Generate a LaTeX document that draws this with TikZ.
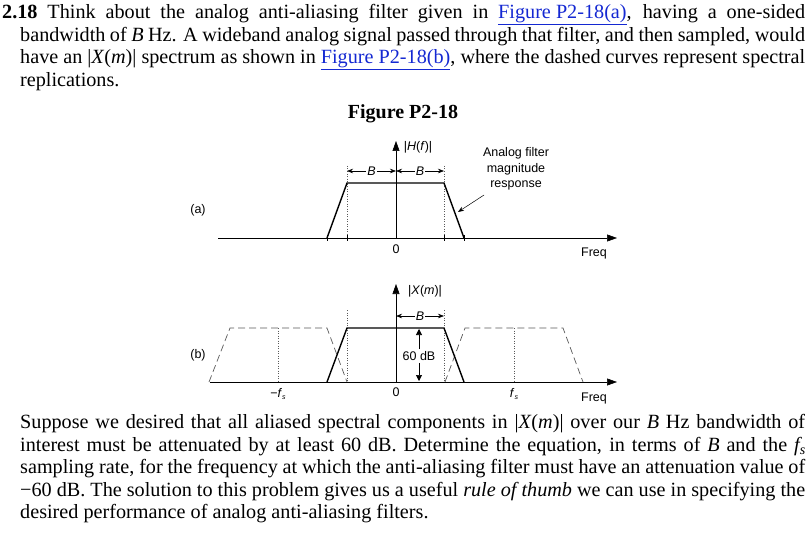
\documentclass[tikz,border=0pt]{standalone}
\usepackage{fontspec}
\setmainfont{Liberation Serif}
\setsansfont{Liberation Sans}
\usetikzlibrary{arrows.meta}
\definecolor{lnk}{RGB}{20,40,210}
\newcommand{\lk}[1]{\textcolor{lnk}{\underline{#1}}}
\begin{document}
\begin{tikzpicture}[x=1pt,y=-1pt,
  ax/.style={line width=0.6pt,-{Triangle[length=10pt,width=7pt]}},
  curve/.style={line width=1.4pt},
  rep/.style={line width=0.7pt,dash pattern=on 7pt off 4pt,gray!70!black},
  dot/.style={line width=0.5pt,dotted,gray!70!black},
  lab/.style={font=\sffamily\fontsize{12.5}{14}\selectfont,inner sep=1pt},
  txt/.style={anchor=north west,inner sep=0pt,font=\fontsize{20.2}{22.6}\selectfont}]
\useasboundingbox (0,0) rectangle (810,540);
\node[txt] (p1) at (2,4) {\parbox{803pt}{\hangindent=18pt\hangafter=1
\textbf{2.18} Think about the analog anti-aliasing filter given in \lk{Figure P2-18(a)}, having a one-sided\linebreak
bandwidth of \textit{B} Hz. A wideband analog signal passed through that filter, and then sampled, would\linebreak
have an |\textit{X}(\textit{m})| spectrum as shown in \lk{Figure P2-18(b)}, where the dashed curves represent spectral\linebreak
replications.}};
\node[font=\fontsize{20}{22}\selectfont\bfseries] (title) at (403,114) {Figure P2-18};
\node[txt] (p2) at (20,414) {\parbox{785pt}{
Suppose we desired that all aliased spectral components in |\textit{X}(\textit{m})| over our \textit{B} Hz bandwidth of\linebreak
interest must be attenuated by at least 60 dB. Determine the equation, in terms of \textit{B} and the \textit{f\raisebox{-3pt}{\fontsize{14}{14}\selectfont s}}\linebreak
sampling rate, for the frequency at which the anti-aliasing filter must have an attenuation value of\linebreak
\textminus60 dB. The solution to this problem gives us a useful \textit{rule of thumb} we can use in specifying the\linebreak
desired performance of analog anti-aliasing filters.}};
% (a)
\coordinate (a0) at (218,238); \coordinate (a1) at (617,238);
\coordinate (v0) at (396,238); \coordinate (v1) at (396,141);
\draw[ax] (a0) -- (a1);
\draw[ax] (v0) -- (v1);
\draw[dot] (347,166) -- (347,238) (444,166) -- (444,238);
\draw[curve] (327,238) -- (347,183) -- (444,183) -- (464,238);
\draw[line width=0.5pt] (327,235)--(327,241) (347,235)--(347,241) (444,235)--(444,241) (464,235)--(464,241);
\node[lab] (ab1) at (371.5,171) {\textit{B}};
\node[lab] (ab2) at (420,171) {\textit{B}};
\draw[line width=0.6pt,-{Stealth[length=6pt]}] (ab1.west) -- (347,171); \draw[line width=0.6pt,-{Stealth[length=6pt]}] (ab1.east) -- (396,171);
\draw[line width=0.6pt,-{Stealth[length=6pt]}] (ab2.west) -- (396,171); \draw[line width=0.6pt,-{Stealth[length=6pt]}] (ab2.east) -- (444,171);
\node[lab] (hf) at (418,147) {|\textit{H}(\textit{f})|};
\node[lab] (a0l) at (396,249) {0};
\node[lab] (fa) at (594,253) {Freq};
\node[lab] (al) at (198,210) {(a)};
\node[lab,align=center,font=\sffamily\fontsize{12.5}{15.5}\selectfont] (ann) at (516,169) {Analog filter\\magnitude\\response};
\coordinate (annt) at (458,212);
\draw[line width=0.5pt,-{Stealth[length=6pt]}] (484,195) -- (annt);
% (b)
\coordinate (b0) at (210,382); \coordinate (b1) at (617,382);
\coordinate (w0) at (396,382); \coordinate (w1) at (396,284);
\draw[ax] (b0) -- (b1);
\draw[ax] (w0) -- (w1);
\draw[dot] (347,310) -- (347,382) (444,310) -- (444,382) (278,328) -- (278,382) (514,328) -- (514,382);
\draw[rep] (209,382) -- (230,328) -- (327,328) -- (347,382);
\draw[rep] (445,382) -- (465,328) -- (563,328) -- (583,382);
\draw[curve] (327,382) -- (347,328) -- (444,328) -- (464,382);
\node[lab] (bb) at (420,316) {\textit{B}};
\draw[line width=0.6pt,-{Stealth[length=6pt]}] (bb.west) -- (396,316); \draw[line width=0.6pt,-{Stealth[length=6pt]}] (bb.east) -- (444,316);
\node[lab,fill=white,inner sep=2pt] (db) at (419,356) {60 dB};
\draw[line width=0.6pt,-{Triangle[length=6pt,width=6pt]}] (db.north) -- (419,329);
\draw[line width=0.6pt,-{Triangle[length=6pt,width=6pt]}] (db.south) -- (419,381);
\node[lab] (xm) at (425,291) {|\textit{X}(\textit{m})|};
\node[lab] (mfs) at (278,394) {\textminus\textit{f}\raisebox{-2pt}{\scriptsize\textit{s}}};
\node[lab] (b0l) at (396,392) {0};
\node[lab] (fs) at (514,394) {\textit{f}\raisebox{-2pt}{\scriptsize\textit{s}}};
\node[lab] (fb) at (594,398) {Freq};
\node[lab] (bl) at (198,355) {(b)};
\end{tikzpicture}
\end{document}
